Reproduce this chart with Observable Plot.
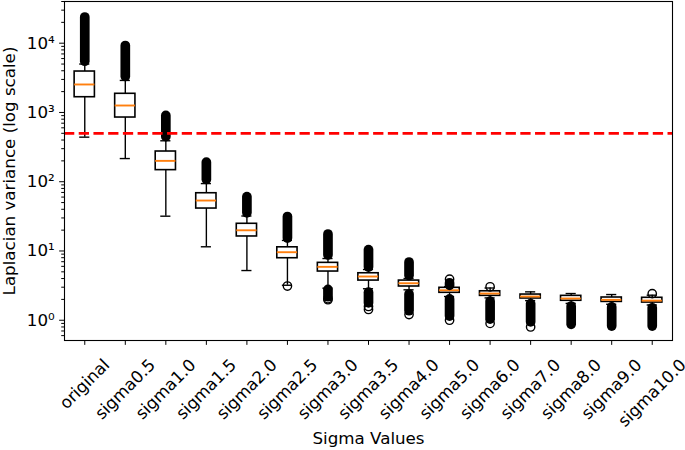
<!DOCTYPE html>
<html>
<head>
<meta charset="utf-8">
<script src="https://cdn.jsdelivr.net/npm/d3@7"></script>
<script src="https://cdn.jsdelivr.net/npm/@observablehq/plot@0.6"></script>
<style>
  html, body { margin: 0; padding: 0; background: #fff; }
</style>
</head>
<body>
<div id="chart"></div>
<script>
// ---- data ----
const categories = ["original","sigma0.5","sigma1.0","sigma1.5","sigma2.0","sigma2.5","sigma3.0","sigma3.5","sigma4.0","sigma5.0","sigma6.0","sigma7.0","sigma8.0","sigma9.0","sigma10.0"];
const q1Values     = [1660, 845, 147, 41, 16.2, 7.86, 5.05, 3.74, 3.07, 2.49, 2.25, 2.06, 1.91, 1.84, 1.80];
const medianValues = [2535, 1260, 200, 53.5, 19.9, 9.6, 5.90, 4.28, 3.42, 2.71, 2.43, 2.20, 2.06, 1.97, 1.92];
const q3Values     = [3900, 1860, 273, 68.2, 24.7, 11.3, 6.74, 4.77, 3.74, 2.94, 2.62, 2.35, 2.25, 2.13, 2.11];
const whiskerLow   = [440, 216, 31.8, 11.5, 5.22, 3.2, 2.9, 2.85, 2.75, 2.2, 2.1, 1.92, 1.75, 1.70, 1.66];
const whiskerHigh  = [5000, 2900, 390, 94, 32, 14.2, 7.78, 5.4, 4.0, 3.05, 2.92, 2.57, 2.43, 2.35, 2.30];
// dense runs of outliers (lowest and highest value of each run)
const upperFliersFrom = [5400, 3250, 440, 106, 35, 15.1, 8.6, 5.77, 4.35, 3.14, null, null, null, null, null];
const upperFliersTo   = [23500, 9100, 890, 189, 60, 30.9, 17.3, 10.3, 6.81, 3.42, null, null, null, null, null];
const lowerFliersFrom = [null, null, null, null, null, null, 2.15, 1.75, 1.35, 1.13, 1.02, 0.93, 0.86, 0.81, 0.81];
const lowerFliersTo   = [null, null, null, null, null, null, 2.75, 2.5, 2.35, 2.0, 1.86, 1.71, 1.58, 1.53, 1.49];
// isolated outliers
const singleFlierCategory = ["sigma2.5","sigma3.0","sigma3.0","sigma3.5","sigma3.5","sigma4.0","sigma5.0","sigma5.0","sigma6.0","sigma6.0","sigma7.0","sigma10.0"];
const singleFlierValue    = [3.12, 2.05, 1.98, 1.58, 1.43, 1.21, 3.91, 1.0, 3.04, 0.90, 0.80, 2.42];
const thresholdValue = 500;
const yTickValues = [1, 10, 100, 1000, 10000];
const yTickLabels = ["10⁰", "10¹", "10²", "10³", "10⁴"];
const xTitle = "Sigma Values";
const yTitle = "Laplacian variance (log scale)";

// ---- build tables ----
const rows = categories.map((c, i) => ({
  cat: c, pos: i + 1,
  q1: q1Values[i], med: medianValues[i], q3: q3Values[i],
  wlo: whiskerLow[i], whi: whiskerHigh[i],
  uf: upperFliersFrom[i], ut: upperFliersTo[i],
  lf: lowerFliersFrom[i], lt: lowerFliersTo[i]
}));
const singles = singleFlierCategory.map((c, i) => ({pos: categories.indexOf(c) + 1, v: singleFlierValue[i]}));

const FONT = "DejaVu Sans";
const FS = 16.7;
const LW = 1.39;
const yDomain = [0.51, 40000];
const minorTicks = d3.scaleLog().domain(yDomain).ticks().filter(t => !yTickValues.some(m => Math.abs(m - t) < 1e-9));

// measure label widths for matplotlib-like centered rotated labels
const ctx = document.createElement("canvas").getContext("2d");
ctx.font = `${FS}px "${FONT}"`;
const labelH = FS * 1.17;
const xLabelMarks = categories.map((c, i) => {
  const w = ctx.measureText(c).width;
  const H = (w + labelH) * Math.SQRT1_2;
  return Plot.text([c], {
    x: i + 1, text: d => d, frameAnchor: "bottom",
    dy: 4.86 + 4.86 + 5 + H / 2,
    rotate: -45, textAnchor: "middle", lineAnchor: "middle",
    fontSize: FS, fill: "black"
  });
});

const cap = 0.125, half = 0.25;

const chart = Plot.plot({
  width: 685,
  height: 450,
  marginLeft: 64,
  marginRight: 13,
  marginTop: 1,
  marginBottom: 110,
  style: {fontFamily: FONT, fontSize: FS + "px", background: "white", color: "black"},
  x: {type: "linear", domain: [0.5, 15.5], axis: null},
  y: {type: "log", domain: yDomain, axis: null},
  marks: [
    // whiskers
    Plot.ruleX(rows, {x: "pos", y1: "q1", y2: "wlo", stroke: "black", strokeWidth: LW}),
    Plot.ruleX(rows, {x: "pos", y1: "q3", y2: "whi", stroke: "black", strokeWidth: LW}),
    // caps
    Plot.ruleY(rows, {y: "wlo", x1: d => d.pos - cap, x2: d => d.pos + cap, stroke: "black", strokeWidth: LW}),
    Plot.ruleY(rows, {y: "whi", x1: d => d.pos - cap, x2: d => d.pos + cap, stroke: "black", strokeWidth: LW}),
    // boxes
    Plot.rect(rows, {x1: d => d.pos - half, x2: d => d.pos + half, y1: "q1", y2: "q3", fill: "none", stroke: "black", strokeWidth: 1.6}),
    // medians
    Plot.ruleY(rows, {y: "med", x1: d => d.pos - half, x2: d => d.pos + half, stroke: "#ff7f0e", strokeWidth: 1.9}),
    // dense flier runs
    Plot.ruleX(rows.filter(d => d.uf != null), {x: "pos", y1: "uf", y2: "ut", stroke: "black", strokeWidth: 9.7, strokeLinecap: "round"}),
    Plot.ruleX(rows.filter(d => d.lf != null), {x: "pos", y1: "lf", y2: "lt", stroke: "black", strokeWidth: 9.7, strokeLinecap: "round"}),
    // isolated fliers
    Plot.dot(singles, {x: "pos", y: "v", r: 4.17, fill: "none", stroke: "black", strokeWidth: LW}),
    // threshold
    Plot.ruleY([thresholdValue], {stroke: "red", strokeWidth: 2.78, strokeDasharray: "10.28,4.44"}),
    // axes
    Plot.axisY({ticks: yTickValues, anchor: "left", tickSize: 4.86, tickPadding: 4.86, label: null,
      tickFormat: d => yTickLabels[yTickValues.indexOf(d)], fontSize: FS}),
    Plot.axisY({ticks: minorTicks, anchor: "left", tickSize: 2.78, label: null, tickFormat: () => ""}),
    Plot.axisX({ticks: rows.map(d => d.pos), anchor: "bottom", tickSize: 4.86, label: null, tickFormat: () => ""}),
    ...xLabelMarks,
    Plot.text([xTitle], {text: d => d, frameAnchor: "bottom", dy: 98, fontSize: FS, fill: "black", lineAnchor: "middle"}),
    Plot.text([yTitle], {text: d => d, frameAnchor: "left", dx: -55, rotate: -90, fontSize: FS, fill: "black", textAnchor: "middle", lineAnchor: "middle"}),
    Plot.frame({stroke: "black", strokeWidth: 1.1})
  ]
});
document.getElementById("chart").appendChild(chart);
</script>
</body>
</html>
